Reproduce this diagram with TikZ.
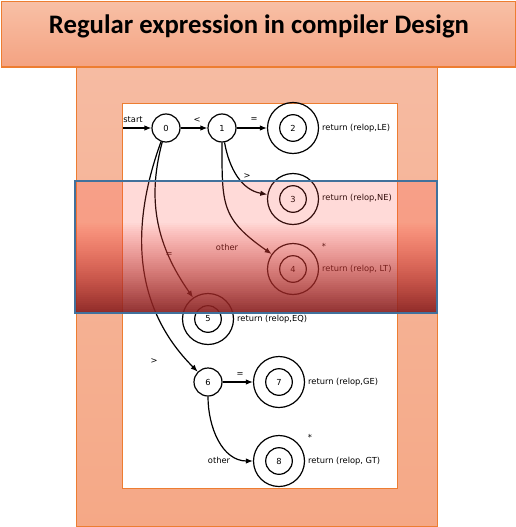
\documentclass[tikz,border=0pt]{standalone}
\usepackage{fontspec}
\setmainfont{DejaVu Sans}
\newfontfamily\titlefont{Carlito}
\usetikzlibrary{arrows.meta}
\definecolor{orangeline}{HTML}{ED7D31}
\definecolor{titletop}{HTML}{F8C0A6}
\definecolor{titlebot}{HTML}{F4A281}
\definecolor{boxtop}{HTML}{F6BBA2}
\definecolor{boxbot}{HTML}{F5A886}
\definecolor{blueline}{HTML}{41719C}
\definecolor{ovtop}{RGB}{255,70,60}
\definecolor{ovbot}{RGB}{135,32,32}
\begin{document}
\begin{tikzpicture}[x=1pt,y=-1pt,
  st/.style={circle,draw,line width=1.2pt,minimum size=28pt,inner sep=0pt,font=\fontsize{8.3}{9}\selectfont},
  acc/.style={circle,draw,line width=1.2pt,minimum size=51pt,inner sep=0pt,font=\fontsize{8.3}{9}\selectfont,
    path picture={\draw[line width=1.2pt] (path picture bounding box.center) circle (13.3pt);}},
  edge/.style={line width=1.2pt,-{Latex[length=7pt,width=5.5pt]}},
  lbl/.style={font=\fontsize{8.3}{9}\selectfont,inner sep=0pt},
  ret/.style={font=\fontsize{8.3}{9}\selectfont,inner sep=0pt,anchor=west}]
\useasboundingbox (0,0) rectangle (516,527);
% background boxes
\path[draw=orangeline,line width=1pt,top color=boxtop,bottom color=boxbot] (76,67) rectangle (437,526);
\path[draw=orangeline,line width=1pt,top color=titletop,bottom color=titlebot] (1.5,1.5) rectangle (515,67);
\node[font=\titlefont\bfseries\fontsize{26.7}{30}\selectfont] (title) at (259,26.5) {Regular expression in compiler Design};
\path[draw=orangeline,line width=1pt,fill=white] (122.7,103.3) rectangle (397.3,488.3);
% states
\node[st] (n0) at (166,128) {0};
\node[st] (n1) at (222,128) {1};
\node[acc] (n2) at (293,128) {2};
\node[acc] (n3) at (293,199) {3};
\node[acc] (n4) at (293,269) {4};
\node[acc] (n5) at (208,319) {5};
\node[st] (n6) at (208,382) {6};
\node[acc] (n7) at (279,382) {7};
\node[acc] (n8) at (279,461) {8};
\coordinate (s) at (123,128);
% edges
\draw[edge] (s) -- (n0);
\draw[edge] (n0) -- (n1);
\draw[edge] (n1) -- (n2);
\draw[edge] (n1) to[out=-80,in=170] (n3);
\draw[edge] (n1) to[out=-90,in=145,looseness=1.3] (n4);
\draw[edge] (n0) to[out=-105,in=125] (n5);
\draw[edge] (n0) to[out=-110,in=135] (n6);
\draw[edge] (n6) -- (n7);
\draw[edge] (n6) to[out=-90,in=180] (n8);
% edge labels
\node[lbl] (lstart) at (133,120) {start};
\node[lbl] (llt) at (197,120) {<};
\node[lbl] (leq1) at (254,120) {=};
\node[lbl] (lgt1) at (247,176) {>};
\node[lbl] (loth1) at (227,247) {other};
\node[lbl] (leq2) at (169,255) {=};
\node[lbl] (lgt2) at (154,361) {>};
\node[lbl] (leq3) at (240,375) {=};
\node[lbl] (loth2) at (219,460) {other};
\node[lbl] (star1) at (324,246) {*};
\node[lbl] (star2) at (310,437) {*};
% return texts
\node[ret] (r2) at (322,128) {return (relop,LE)};
\node[ret] (r3) at (322,198) {return (relop,NE)};
\node[ret] (r4) at (322,269) {return (relop, LT)};
\node[ret] (r5) at (237,319) {return (relop,EQ)};
\node[ret] (r7) at (308,382) {return (relop,GE)};
\node[ret] (r8) at (308,461) {return (relop, GT)};
% overlay
\fill[ovtop,fill opacity=0.2] (75,181) rectangle (437,223);
\foreach \i in {0,...,44}{
  \pgfmathsetmacro\tt{(\i+0.5)/45}
  \pgfmathsetmacro\op{0.2+0.72*(\tt^0.8)}
  \pgfmathsetmacro\pc{100*(1-\tt)}
  \fill[ovtop!\pc!ovbot,fill opacity=\op] (75,{223+2*\i}) rectangle (437,{225+2*\i});
}
\draw[blueline,line width=2pt] (75,181) rectangle (437,313);
\end{tikzpicture}
\end{document}
